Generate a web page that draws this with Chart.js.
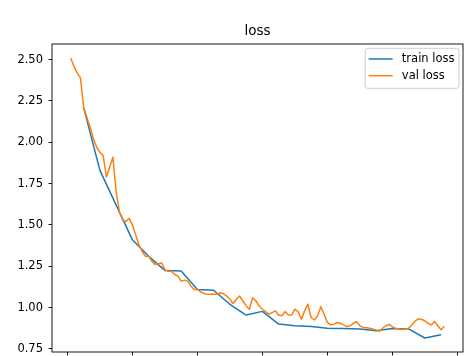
<!DOCTYPE html>
<html><head><meta charset="utf-8">
<script src="https://cdn.jsdelivr.net/npm/chart.js@4/dist/chart.umd.min.js"></script>
<style>html,body{margin:0;padding:0;background:#fff;overflow:hidden}canvas{display:block}</style>
</head><body>
<canvas id="c" width="474" height="356"></canvas>
<script>
const chartTitle = 'loss';
const trainLabel = 'train loss';
const valLabel = 'val loss';

const trainEpochs = [5,10,15,20,25,30,35,40,45,50,55,60,65,70,75,80,85,90,95,100,105,110,115];
const trainLoss = [2.21,1.83,1.62,1.41,1.31,1.225,1.222,1.11,1.105,1.02,0.955,0.977,0.90,0.89,0.885,0.875,0.873,0.87,0.86,0.873,0.871,0.816,0.835];

const valEpochs = [1,2,3,4,5,6,7,8,9,10,11,12,13,14,15,16,17,18,19,20,21,22,23,24,25,26,27,28,29,30,
  31,32,33,34,35,36,37,38,39,40,41,42,43,44,45,46,47,48,49,50,51,52,53,54,55,56,57,58,59,60,
  61,62,63,64,65,66,67,68,69,70,71,72,73,74,75,76,77,78,79,80,81,82,83,84,85,86,87,88,89,90,
  91,92,93,94,95,96,97,98,99,100,101,102,103,104,105,106,107,108,109,110,111,112,113,114,115,116];
const valLoss = [2.51,2.46,2.42,2.39,2.21,2.15,2.09,2.02,1.97,1.94,
  1.92,1.79,1.85,1.91,1.70,1.58,1.53,1.52,1.54,1.50,
  1.44,1.38,1.34,1.31,1.31,1.28,1.26,1.265,1.27,1.23,
  1.22,1.22,1.20,1.19,1.16,1.165,1.16,1.13,1.11,1.11,
  1.095,1.085,1.08,1.08,1.08,1.08,1.09,1.085,1.07,1.05,
  1.025,1.05,1.07,1.04,1.01,0.99,1.06,1.04,1.01,0.99,
  0.975,0.96,0.97,0.98,0.955,0.95,0.976,0.955,0.955,0.99,
  0.975,0.93,0.98,1.02,0.94,0.925,0.95,1.005,0.96,0.91,
  0.895,0.90,0.91,0.905,0.895,0.885,0.89,0.905,0.915,0.89,
  0.88,0.878,0.875,0.87,0.865,0.857,0.875,0.89,0.898,0.885,
  0.873,0.87,0.867,0.87,0.875,0.895,0.918,0.932,0.928,0.92,
  0.905,0.895,0.915,0.89,0.865,0.887];

const xTickValues = [0,20,40,60,80,100,120];
const yTickValues = [0.75,1.00,1.25,1.50,1.75,2.00,2.25,2.50];

const trainColor = '#1f77b4';
const valColor = '#ff7f0e';
const FONT = "'DejaVu Sans', sans-serif";

// matplotlib-like 5% auto margins
function padRange(vals){
  const lo = Math.min(...vals), hi = Math.max(...vals), m = (hi - lo) * 0.05;
  return [lo - m, hi + m];
}
const [xMin, xMax] = padRange(trainEpochs.concat(valEpochs));
const [yMin, yMax] = padRange(trainLoss.concat(valLoss));

const mplPlugin = {
  id: 'mplPlugin',
  afterLayout(chart) {
    const t = chart.titleBlock, a = chart.chartArea;
    if (t) { t.left = a.left; t.right = a.right; t.width = a.right - a.left; }
  },
  afterDatasetsDraw(chart) {
    const {ctx, chartArea: a} = chart;
    ctx.save();
    ctx.strokeStyle = '#000';
    ctx.lineWidth = 0.9;
    ctx.strokeRect(a.left, a.top, a.right - a.left, a.bottom - a.top);
    const fs = 11.5;
    ctx.font = fs + 'px ' + FONT;
    const items = chart.data.datasets.slice().sort((p, q) => p.legendIndex - q.legendIndex);
    const tw = Math.max(...items.map(d => ctx.measureText(d.label).width));
    const w = 3.5 + 24 + 9.2 + tw + 4.5;
    const h = 40;
    const x0 = a.right - 4 - w, y0 = a.top + 4.3;
    ctx.beginPath();
    ctx.roundRect(x0, y0, w, h, 2.5);
    ctx.fillStyle = 'rgba(255,255,255,0.8)';
    ctx.fill();
    ctx.strokeStyle = '#cccccc';
    ctx.lineWidth = 1;
    ctx.stroke();
    items.forEach((d, i) => {
      const cy = y0 + 10.7 + i * 16.7;
      ctx.beginPath();
      ctx.strokeStyle = d.borderColor;
      ctx.lineWidth = 1.5;
      ctx.moveTo(x0 + 3.5, cy);
      ctx.lineTo(x0 + 27.5, cy);
      ctx.stroke();
      ctx.fillStyle = '#000';
      ctx.textBaseline = 'middle';
      ctx.textAlign = 'left';
      ctx.fillText(d.label, x0 + 36.7, cy);
    });
    ctx.restore();
  }
};

new Chart(document.getElementById('c'), {
  type: 'line',
  data: {
    datasets: [
      {
        label: trainLabel, legendIndex: 0, order: 1,
        data: trainEpochs.map((x, i) => ({x, y: trainLoss[i]})),
        borderColor: trainColor, backgroundColor: trainColor,
        borderWidth: 1.5, pointRadius: 0, tension: 0, borderJoinStyle: 'round', fill: false
      },
      {
        label: valLabel, legendIndex: 1, order: 0,
        data: valEpochs.map((x, i) => ({x, y: valLoss[i]})),
        borderColor: valColor, backgroundColor: valColor,
        borderWidth: 1.5, pointRadius: 0, tension: 0, borderJoinStyle: 'round', fill: false
      }
    ]
  },
  options: {
    responsive: false,
    animation: false,
    devicePixelRatio: 1,
    layout: { padding: { left: 0, right: 11, top: 0, bottom: 0 } },
    plugins: {
      legend: { display: false },
      tooltip: { enabled: false },
      title: {
        display: true,
        text: chartTitle,
        color: '#000',
        font: { family: FONT, size: 13.5, weight: 'normal', lineHeight: 1.2 },
        padding: { top: 23.5, bottom: 4.3 }
      }
    },
    scales: {
      x: {
        type: 'linear', position: 'bottom', min: xMin, max: xMax,
        afterBuildTicks: s => { s.ticks = xTickValues.map(v => ({value: v})); },
        afterFit: s => { s.height = 4; s.paddingLeft = 0; s.paddingRight = 0; },
        border: { display: false },
        grid: { display: true, drawOnChartArea: false, drawTicks: true, tickLength: 3.5, color: '#000', lineWidth: 0.9 },
        ticks: { display: true, autoSkip: false, maxRotation: 0, color: '#000', padding: 3,
                 font: { family: FONT, size: 11.5 }, callback: v => String(v) }
      },
      y: {
        type: 'linear', min: yMin, max: yMax,
        afterBuildTicks: s => { s.ticks = yTickValues.map(v => ({value: v})); },
        afterFit: s => { s.width = 52; s.paddingTop = 0; s.paddingBottom = 0; },
        border: { display: false },
        grid: { display: true, drawOnChartArea: false, drawTicks: true, tickLength: 3.5, color: '#000', lineWidth: 0.9 },
        ticks: { color: '#000', padding: 5.5, font: { family: FONT, size: 11.5 },
                 callback: v => Number(v).toFixed(2) }
      }
    }
  },
  plugins: [mplPlugin]
});
</script>
</body></html>
